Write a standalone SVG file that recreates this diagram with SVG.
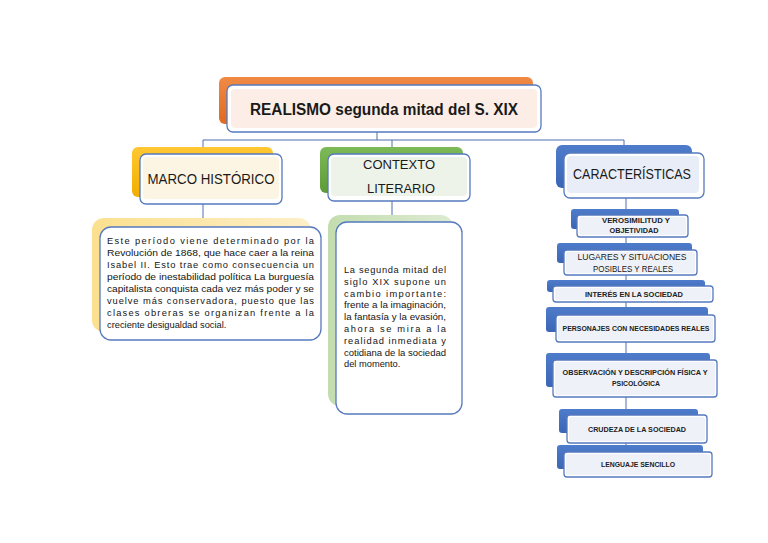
<svg xmlns="http://www.w3.org/2000/svg" width="768" height="543" viewBox="0 0 768 543">
<style>
.front{stroke:#5679BF;stroke-width:1.3}
.conn{stroke:#4F6FAE;stroke-width:1;fill:none}
.t{font-family:"Liberation Sans",Arial,sans-serif;fill:#1a1a1a}
.lbl{font-family:"Liberation Sans",Arial,sans-serif;font-weight:bold;font-size:7.3px;fill:#222}
.body{font-family:"Liberation Sans",Arial,sans-serif;font-size:9.3px;fill:#151515}
</style>
<defs>
<linearGradient id="gOr" x1="0" y1="0" x2="0" y2="1"><stop offset="0" stop-color="#F08A45"/><stop offset="1" stop-color="#E06A20"/></linearGradient>
<linearGradient id="gYe" x1="0" y1="0" x2="0" y2="1"><stop offset="0" stop-color="#FFC733"/><stop offset="1" stop-color="#F2AE00"/></linearGradient>
<linearGradient id="gGr" x1="0" y1="0" x2="0" y2="1"><stop offset="0" stop-color="#7DB956"/><stop offset="1" stop-color="#5E9A38"/></linearGradient>
<linearGradient id="gBl" x1="0" y1="0" x2="0" y2="1"><stop offset="0" stop-color="#4E7CCB"/><stop offset="1" stop-color="#3B66B4"/></linearGradient>
<linearGradient id="gPy" x1="0" y1="0" x2="1" y2="0"><stop offset="0" stop-color="#FBE08F"/><stop offset="1" stop-color="#FDEFC8"/></linearGradient>
<linearGradient id="gPg" x1="0" y1="0" x2="1" y2="0"><stop offset="0" stop-color="#C3DDAF"/><stop offset="1" stop-color="#DDEBD2"/></linearGradient>
</defs>
<rect width="768" height="543" fill="#ffffff"/>

<g id="connectors">
<path class="conn" d="M377,132 V140 M203,140 H624 M203,140 V154 M392,140 V154 M624,140 V153 M203,204 V227 M392,201 V222 M626,198 V452"/>
</g>

<g id="n-title">
<rect x="219" y="77" width="314" height="47" rx="6" fill="url(#gOr)"/>
<rect class="front" x="227" y="85" width="314" height="47" rx="6" fill="#FFFFFF"/>
<rect x="231" y="89" width="306" height="39" rx="4" fill="#FCEEE6"/>
<text class="t" x="384" y="115" text-anchor="middle" font-size="16" font-weight="bold" textLength="268" lengthAdjust="spacingAndGlyphs">REALISMO segunda mitad del S. XIX</text>
</g>

<g id="n-marco">
<rect x="132" y="147" width="141" height="50" rx="6" fill="url(#gYe)"/>
<rect class="front" x="140" y="154" width="142" height="50" rx="6" fill="#FFFFFF"/>
<rect x="143" y="157" width="136" height="42" rx="4" fill="#FDF5E3"/>
<text class="t" x="211" y="184" text-anchor="middle" font-size="14" textLength="127" lengthAdjust="spacingAndGlyphs">MARCO HISTÓRICO</text>
</g>

<g id="n-contexto">
<rect x="320" y="147" width="143" height="46" rx="6" fill="url(#gGr)"/>
<rect class="front" x="328" y="154" width="142" height="47" rx="6" fill="#FFFFFF"/>
<rect x="331" y="157" width="136" height="39" rx="4" fill="#EEF3EA"/>
<text class="t" x="399" y="169" text-anchor="middle" font-size="13.5" textLength="72" lengthAdjust="spacingAndGlyphs">CONTEXTO</text>
<text class="t" x="401" y="193" text-anchor="middle" font-size="13.5" textLength="68" lengthAdjust="spacingAndGlyphs">LITERARIO</text>
</g>

<g id="n-caract">
<rect x="556" y="145" width="136" height="43" rx="6" fill="url(#gBl)"/>
<rect class="front" x="564" y="153" width="140" height="45" rx="6" fill="#FFFFFF"/>
<rect x="567" y="156" width="132" height="37" rx="4" fill="#E8EDF7"/>
<text class="t" x="632" y="179" text-anchor="middle" font-size="15" textLength="118" lengthAdjust="spacingAndGlyphs">CARACTERÍSTICAS</text>
</g>

<g id="n-marco-text">
<rect x="92" y="218" width="219" height="114" rx="12" fill="url(#gPy)"/>
<rect class="front" x="100" y="227" width="221" height="113" rx="11" fill="#FFFFFF"/>
<g class="body">
<text x="107" y="243.5" textLength="207" lengthAdjust="spacing">Este período viene determinado por la</text>
<text x="107" y="255.6" textLength="207" lengthAdjust="spacingAndGlyphs">Revolución de 1868, que hace caer a la reina</text>
<text x="107" y="267.7" textLength="207" lengthAdjust="spacing">Isabel II. Esto trae como consecuencia un</text>
<text x="107" y="279.8" textLength="207" lengthAdjust="spacingAndGlyphs">período de inestabilidad política La burguesía</text>
<text x="107" y="291.9" textLength="207" lengthAdjust="spacingAndGlyphs">capitalista conquista cada vez más poder y se</text>
<text x="107" y="304" textLength="207" lengthAdjust="spacing">vuelve más conservadora, puesto que las</text>
<text x="107" y="316.1" textLength="207" lengthAdjust="spacing">clases obreras se organizan frente a la</text>
<text x="107" y="328.2">creciente desigualdad social.</text>
</g>
</g>

<g id="n-contexto-text">
<rect x="328" y="215" width="125" height="191" rx="12" fill="url(#gPg)"/>
<rect class="front" x="336" y="222" width="126" height="192" rx="11" fill="#FFFFFF"/>
<g class="body">
<text x="344" y="273" textLength="102" lengthAdjust="spacing">La segunda mitad del</text>
<text x="344" y="284.8" textLength="102" lengthAdjust="spacing">siglo XIX supone un</text>
<text x="344" y="296.6" textLength="102" lengthAdjust="spacing">cambio importante:</text>
<text x="344" y="308.4" textLength="102" lengthAdjust="spacingAndGlyphs">frente a la imaginación,</text>
<text x="344" y="320.2" textLength="102" lengthAdjust="spacingAndGlyphs">la fantasía y la evasión,</text>
<text x="344" y="332" textLength="102" lengthAdjust="spacing">ahora se mira a la</text>
<text x="344" y="343.8" textLength="102" lengthAdjust="spacing">realidad inmediata y</text>
<text x="344" y="355.6" textLength="102" lengthAdjust="spacingAndGlyphs">cotidiana de la sociedad</text>
<text x="344" y="367.4">del momento.</text>
</g>
</g>

<g id="n-c1">
<rect x="571" y="209" width="108" height="20" rx="3" fill="url(#gBl)"/>
<rect class="front" x="577" y="215" width="111" height="22" rx="3" fill="#FFFFFF"/>
<rect x="579" y="217" width="107" height="18" rx="2" fill="#EEF1F8"/>
<text class="lbl" x="636" y="223" text-anchor="middle" textLength="68" lengthAdjust="spacingAndGlyphs">VEROSIMILITUD Y</text>
<text class="lbl" x="634" y="233" text-anchor="middle" textLength="49" lengthAdjust="spacingAndGlyphs">OBJETIVIDAD</text>
</g>

<g id="n-c2">
<rect x="557" y="243" width="135" height="20" rx="3" fill="url(#gBl)"/>
<rect class="front" x="564" y="250" width="133" height="25" rx="3" fill="#FFFFFF"/>
<rect x="566" y="252" width="129" height="21" rx="2" fill="#EEF1F8"/>
<text class="t" x="632" y="260" text-anchor="middle" font-size="9.5" textLength="109" lengthAdjust="spacingAndGlyphs">LUGARES Y SITUACIONES</text>
<text class="t" x="633" y="271.5" text-anchor="middle" font-size="9.5" textLength="80" lengthAdjust="spacingAndGlyphs">POSIBLES Y REALES</text>
</g>

<g id="n-c3">
<rect x="547" y="280" width="158" height="12" rx="3" fill="url(#gBl)"/>
<rect class="front" x="553" y="286" width="160" height="16" rx="3" fill="#FFFFFF"/>
<rect x="555" y="288" width="156" height="12" rx="2" fill="#EEF1F8"/>
<text class="lbl" x="634" y="297" text-anchor="middle" textLength="98" lengthAdjust="spacingAndGlyphs">INTERÉS EN LA SOCIEDAD</text>
</g>

<g id="n-c4">
<rect x="546" y="307" width="162" height="25" rx="3" fill="url(#gBl)"/>
<rect class="front" x="556" y="315" width="159" height="27" rx="3" fill="#FFFFFF"/>
<rect x="558" y="317" width="155" height="23" rx="2" fill="#EEF1F8"/>
<text class="lbl" x="636" y="330.5" text-anchor="middle" textLength="147" lengthAdjust="spacingAndGlyphs">PERSONAJES CON NECESIDADES REALES</text>
</g>

<g id="n-c5">
<rect x="546" y="353" width="164" height="34" rx="3" fill="url(#gBl)"/>
<rect class="front" x="553" y="360" width="164" height="37" rx="3" fill="#FFFFFF"/>
<rect x="555" y="362" width="160" height="33" rx="2" fill="#EEF1F8"/>
<text class="lbl" x="635" y="375" text-anchor="middle" textLength="145" lengthAdjust="spacingAndGlyphs">OBSERVACIÓN Y DESCRIPCIÓN FÍSICA Y</text>
<text class="lbl" x="636" y="386" text-anchor="middle" textLength="48" lengthAdjust="spacingAndGlyphs">PSICOLÓGICA</text>
</g>

<g id="n-c6">
<rect x="559" y="409" width="139" height="24" rx="3" fill="url(#gBl)"/>
<rect class="front" x="567" y="415" width="140" height="28" rx="3" fill="#FFFFFF"/>
<rect x="569" y="417" width="136" height="24" rx="2" fill="#EEF1F8"/>
<text class="lbl" x="637" y="431.5" text-anchor="middle" textLength="98" lengthAdjust="spacingAndGlyphs">CRUDEZA DE LA SOCIEDAD</text>
</g>

<g id="n-c7">
<rect x="557" y="445" width="146" height="24" rx="3" fill="url(#gBl)"/>
<rect class="front" x="564" y="452" width="148" height="25" rx="3" fill="#FFFFFF"/>
<rect x="566" y="454" width="144" height="21" rx="2" fill="#EEF1F8"/>
<text class="lbl" x="638" y="466.5" text-anchor="middle" textLength="74" lengthAdjust="spacingAndGlyphs">LENGUAJE SENCILLO</text>
</g>
</svg>
